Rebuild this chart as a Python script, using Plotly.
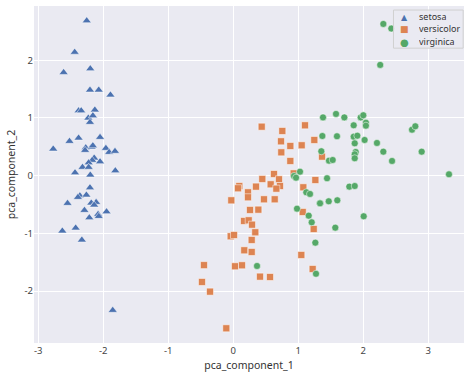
import plotly.graph_objects as go

# ---- data ----
setosa_x = [-2.255, -2.44, -2.20, -2.61, -2.205, -2.07, -1.89, -2.38, -2.34, -2.13,
            -2.23, -2.16, -2.205, -2.77, -2.52, -2.38, -2.05, -2.27, -2.28, -2.18,
            -2.16, -1.96, -1.91, -1.82, -2.14, -2.17, -2.225, -2.05, -2.32, -2.225,
            -2.435, -1.815, -2.20, -2.205, -2.36, -2.39, -2.26, -2.55, -2.185, -2.11,
            -2.14, -2.29, -1.95, -2.08, -2.07, -2.215, -2.63, -2.425, -2.33, -1.855]
setosa_y = [2.686, 2.14, 1.855, 1.79, 1.485, 1.485, 1.40, 1.127, 1.127, 1.14,
            1.0, 1.04, 0.925, 0.463, 0.596, 0.653, 0.665, 0.485, 0.44, 0.497,
            0.52, 0.475, 0.405, 0.423, 0.307, 0.267, 0.225, 0.243, 0.146, 0.146,
            0.052, 0.087, 0.012, -0.208, -0.347, -0.375, -0.335, -0.479, -0.473, -0.462,
            -0.508, -0.60, -0.624, -0.67, -0.705, -0.727, -0.958, -0.906, -1.114, -2.333]

versicolor_x = [0.437, 1.103, 0.754, 1.246, 0.734, 0.877, 1.052, 0.738, 0.877, 1.365,
                0.626, 0.929, 0.446, 0.703, 1.262, 0.092, 0.072, 0.349, 0.575, 0.718,
                0.662, 1.077, 0.226, 0.226, -0.031, 0.472, 0.637, 0.257, 0.385, 1.068,
                0.165, 0.237, 0.288, 1.237, 0.338, -0.04, 0.011, 0.283, 0.169, 0.283,
                1.046, -0.451, 0.026, 0.134, 0.411, 0.565, -0.482, -0.358, -0.108, 1.221]
versicolor_y = [0.849, 0.873, 0.775, 0.619, 0.596, 0.515, 0.527, 0.405, 0.255, 0.33,
                0.029, 0.04, -0.057, -0.062, -0.075, -0.179, -0.218, -0.19, -0.149, -0.179,
                -0.225, -0.201, -0.288, -0.374, -0.427, -0.409, -0.409, -0.594, -0.589, -0.629,
                -0.785, -0.773, -0.849, -0.924, -0.981, -1.05, -1.028, -1.114, -1.293, -1.322,
                -1.374, -1.55, -1.57, -1.553, -1.75, -1.756, -1.842, -2.01, -2.645, -1.617]

virginica_x = [2.308, 2.431, 2.26, 1.38, 1.58, 1.708, 1.852, 1.96, 2.0, 2.04,
               2.04, 2.749, 2.8, 1.37, 1.595, 1.852, 1.908, 2.02, 2.21, 1.868,
               2.308, 2.898, 1.354, 1.883, 1.868, 1.868, 2.442, 1.472, 1.529, 3.318,
               1.026, 0.934, 0.965, 1.442, 1.785, 1.868, 1.123, 1.18, 1.334, 1.468,
               1.6, 0.98, 1.16, 1.206, 2.006, 1.569, 1.262, 1.272, 0.365, 1.334]
virginica_y = [2.63, 2.55, 1.92, 1.01, 1.07, 1.01, 0.873, 1.01, 1.047, 0.919,
               0.867, 0.797, 0.856, 0.688, 0.683, 0.676, 0.693, 0.619, 0.567, 0.561,
               0.416, 0.416, 0.423, 0.411, 0.371, 0.302, 0.255, 0.26, 0.272, 0.024,
               0.069, -0.005, -0.035, -0.045, -0.19, -0.179, -0.288, -0.317, -0.479, -0.444,
               -0.427, -0.572, -0.693, -0.808, -0.704, -0.901, -1.161, -1.70, -1.565, -0.479]

species = ["setosa", "versicolor", "virginica"]
colors = ["#4C72B0", "#DD8452", "#55A868"]
symbols = ["triangle-up", "square", "circle"]
legend_glyphs = ["▲", "■", "●"]

x_tick_vals = [-3, -2, -1, 0, 1, 2, 3]
x_tick_text = ["-3", "-2", "-1", "0", "1", "2", "3"]
y_tick_vals = [-2, -1, 0, 1, 2]
y_tick_text = ["-2", "-1", "0", "1", "2"]

FONT = "Noto Sans, DejaVu Sans, sans-serif"

fig = go.Figure()
data_x = [setosa_x, versicolor_x, virginica_x]
data_y = [setosa_y, versicolor_y, virginica_y]
sizes = [8, 7, 7]
for name, xs, ys, col, sym, sz in zip(species, data_x, data_y, colors, symbols, sizes):
    fig.add_trace(go.Scatter(
        x=xs, y=ys, mode="markers", name=name, showlegend=False,
        marker=dict(color=col, symbol=sym, size=sz,
                    line=dict(color="white", width=0.5)),
    ))

# compact legend (seaborn style) drawn in paper coordinates
shapes = [dict(type="rect", xref="paper", yref="paper",
               x0=0.836, x1=0.998, y0=0.875, y1=0.988,
               fillcolor="rgba(234,234,242,0.85)", line=dict(color="#D0D0D0", width=1))]
annotations = []
row_y = [0.968, 0.932, 0.895]
glyph_sizes = [8, 9, 10]
for i, name in enumerate(species):
    annotations.append(dict(xref="paper", yref="paper", x=0.862, y=row_y[i],
                            text=legend_glyphs[i], showarrow=False, height=11,
                            borderpad=0,
                            font=dict(size=glyph_sizes[i], color=colors[i]),
                            xanchor="center", yanchor="middle"))
    annotations.append(dict(xref="paper", yref="paper", x=0.894, y=row_y[i],
                            text=name, showarrow=False, height=11, borderpad=0,
                            font=dict(size=9, color="#333333"),
                            xanchor="left", yanchor="middle"))

fig.update_layout(
    width=474, height=377,
    margin=dict(l=34, r=10, t=6, b=34),
    paper_bgcolor="white",
    plot_bgcolor="#EAEAF2",
    font=dict(family=FONT, size=10, color="#333333"),
    showlegend=False,
    shapes=shapes,
    annotations=annotations,
    xaxis=dict(
        range=[-3.066, 3.549], tickvals=x_tick_vals, ticktext=x_tick_text,
        showgrid=True, gridcolor="white", gridwidth=1, zeroline=False,
        showline=False, ticks="", ticklen=0,
        title=dict(text="pca_component_1", font=dict(size=10.5, color="#333333"), standoff=6),
        tickfont=dict(size=9.5, color="#444444"),
    ),
    yaxis=dict(
        range=[-2.90, 2.941], tickvals=y_tick_vals, ticktext=y_tick_text,
        showgrid=True, gridcolor="white", gridwidth=1, zeroline=False,
        showline=False, ticks="", ticklen=0,
        title=dict(text="pca_component_2", font=dict(size=10.5, color="#333333"), standoff=6),
        tickfont=dict(size=9.5, color="#444444"),
    ),
)

fig.write_html("out.html",
               config={"displayModeBar": False},
               post_script="document.body.style.margin='0';document.body.style.padding='0';")
